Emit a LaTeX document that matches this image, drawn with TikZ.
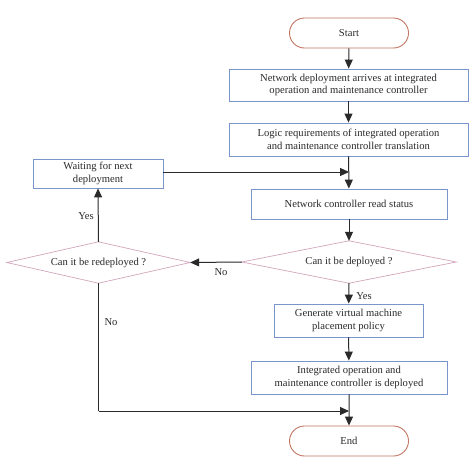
\documentclass[tikz,border=0pt]{standalone}
\usepackage{fontspec}
\setmainfont{Liberation Serif}
\usetikzlibrary{shapes.geometric,shapes.misc,arrows.meta}
\definecolor{boxc}{HTML}{7A94CC}
\definecolor{diac}{HTML}{D2A6BC}
\definecolor{termc}{HTML}{C27563}
\definecolor{linec}{HTML}{2A2A2A}
\definecolor{txtc}{HTML}{2A2A2A}
\tikzset{
  procbox/.style={draw=boxc, line width=0.9pt, fill=white, inner sep=0pt, align=center, text=txtc, font=\fontsize{10.6}{12.6}\selectfont},
  termbox/.style={draw=termc, line width=0.9pt, rounded rectangle, minimum width=119pt, minimum height=30pt, inner sep=0pt, text=txtc, font=\fontsize{10.6}{12.6}\selectfont},
  decbox/.style={inner sep=0pt, text=txtc, font=\fontsize{10.6}{12.6}\selectfont},
  decline/.style={draw=diac, line width=0.7pt},
  conn/.style={draw=linec, line width=1pt, -{Triangle[length=9pt,width=8pt]}},
  plainconn/.style={draw=linec, line width=1pt},
  lbl/.style={text=txtc, font=\fontsize{10.6}{12.6}\selectfont, inner sep=1pt}
}
\begin{document}
\begin{tikzpicture}[x=1pt,y=-1pt]
\useasboundingbox[fill=white] (0,0) rectangle (474,474);
\node[termbox] (start) at (349,33) {Start};
\node[procbox, minimum width=239pt, minimum height=32pt] (b1) at (348.5,85) {Network deployment arrives at integrated\\operation and maintenance controller};
\node[procbox, minimum width=239pt, minimum height=33pt] (b2) at (348.5,139.5) {Logic requirements of integrated operation\\and maintenance controller translation};
\node[procbox, minimum width=196pt, minimum height=30pt] (b3) at (349,204) {Network controller read status};
\node[decbox, minimum width=214pt, minimum height=42pt] (d2) at (349,262) {Can it be deployed ?};
\draw[decline] (d2.west) -- (d2.north) -- (d2.east) -- (d2.south) -- cycle;
\node[procbox, minimum width=149pt, minimum height=33pt] (b4) at (348.5,320.5) {Generate virtual machine\\placement policy};
\node[procbox, minimum width=196pt, minimum height=33pt] (b5) at (349,377.5) {Integrated operation and\\maintenance controller is deployed};
\node[termbox] (end) at (349,441) {End};
\node[procbox, minimum width=130pt, minimum height=29pt] (wait) at (98,173.5) {Waiting for next\\deployment};
\node[decbox, minimum width=183pt, minimum height=41pt] (d1) at (98.5,262.5) {Can it be redeployed ?};
\draw[decline] (d1.west) -- (d1.north) -- (d1.east) -- (d1.south) -- cycle;
\coordinate (j1) at (349,172);
\coordinate (j2) at (349,411);
\coordinate (c1) at (98.5,411);
\draw[conn] (start) -- (b1);
\draw[conn] (b1) -- (b2);
\draw[conn] (b2) -- (b3);
\draw[conn] (wait.east |- j1) -- (j1);
\draw[conn] (b3) -- (d2.north);
\draw[conn] (d2.south) -- node[lbl, right, xshift=6pt, yshift=-3pt] {Yes} (b4);
\draw[conn] (b4) -- (b5);
\draw[conn] (b5) -- (end);
\draw[conn] (d2.west) -- node[lbl, below, xshift=5pt, yshift=-5pt] {No} (d1.east);
\draw[conn] (d1.north) -- node[lbl, left, xshift=-3pt, yshift=-1pt] {Yes} (wait.south);
\draw[plainconn] (d1.south) -- (c1);
\draw[conn] (c1) -- (j2);
\node[lbl] (no2) at (111,322) {No};
\end{tikzpicture}
\end{document}
